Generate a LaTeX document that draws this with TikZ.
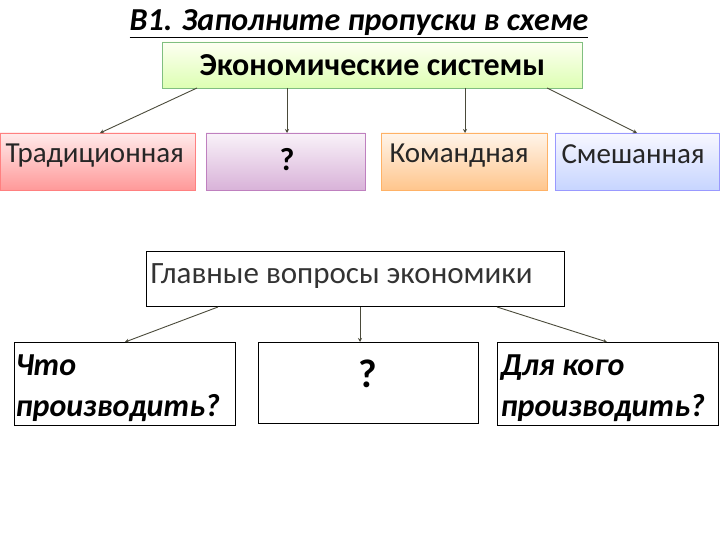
\documentclass[tikz,border=0pt]{standalone}
\usepackage{fontspec}
\setmainfont{Carlito}
\usetikzlibrary{arrows.meta}
\definecolor{lnk}{HTML}{4A4A3A}
\tikzset{
 px/.style={x=1pt,y=-1pt},
 conn/.style={draw=lnk,line width=0.9pt,-{Stealth[length=4pt,width=4pt]}},
 lbl/.style={font=\fontsize{29}{33}\selectfont,text=black!85},
 qlbl/.style={font=\fontsize{32}{41}\selectfont\bfseries\itshape,align=left,anchor=north west}
}
\begin{document}
\begin{tikzpicture}[px]
\useasboundingbox (0,0) rectangle (720,540);
\node[font=\fontsize{32}{36}\selectfont\bfseries\itshape] (title) at (359,24) {\underline{В1. Заполните пропуски в схеме}};
% top box
\shade[top color=green!8!yellow!5,bottom color=green!45!yellow!30] (162,42) rectangle (582,88);
\node[draw=green!50!black!50,line width=0.8pt,minimum width=420pt,minimum height=46pt,anchor=north west,inner sep=0,font=\fontsize{32}{36}\selectfont\bfseries] (es) at (162,42) {Экономические системы};
% category boxes
\shade[top color=red!8,bottom color=red!40] (0,133) rectangle (195,190);
\shade[top color=violet!5,bottom color=violet!30] (206,133) rectangle (365,190);
\shade[top color=orange!8,bottom color=orange!45] (381,133) rectangle (547,190);
\shade[top color=blue!3,bottom color=cyan!25!blue!22] (555,133) rectangle (719,190);
\node[draw=red!50,line width=0.8pt,minimum width=195pt,minimum height=57pt,anchor=north west,inner sep=0] (t) at (0,133) {};
\node[draw=violet!50,line width=0.8pt,minimum width=159pt,minimum height=57pt,anchor=north west,inner sep=0] (q1) at (206,133) {};
\node[draw=orange!60,line width=0.8pt,minimum width=166pt,minimum height=57pt,anchor=north west,inner sep=0] (k) at (381,133) {};
\node[draw=blue!40,line width=0.8pt,minimum width=164pt,minimum height=57pt,anchor=north west,inner sep=0] (s) at (555,133) {};
\node[lbl,anchor=west] (tl) at (2,156) {Традиционная};
\node[font=\fontsize{32}{36}\selectfont\bfseries,anchor=center] (q1l) at (287,160) {?};
\node[lbl,anchor=west] (kl) at (386,156) {Командная};
\node[lbl,anchor=west] (sl) at (558,154) {Смешанная};
\coordinate (e1) at (197,88); \coordinate (e2) at (287,88);
\coordinate (e3) at (465,88); \coordinate (e4) at (547,88);
\draw[conn] (e1) -- (t.north -| 100,0);
\draw[conn] (e2) -- (q1.north -| 287,0);
\draw[conn] (e3) -- (k.north -| 465,0);
\draw[conn] (e4) -- (s.north -| 637,0);
% questions
\node[draw=black,line width=0.8pt,minimum width=418pt,minimum height=55pt,anchor=north west,inner sep=0] (gv) at (146,251) {};
\node[font=\fontsize{31}{35}\selectfont,text=black!80,anchor=west] (gvl) at (147,276) {Главные вопросы экономики};
\node[draw=black,line width=0.8pt,minimum width=221pt,minimum height=83pt,anchor=north west,inner sep=0] (b1) at (14,342) {};
\node[draw=black,line width=0.8pt,minimum width=220pt,minimum height=81pt,anchor=north west,inner sep=0] (b2) at (258,342) {};
\node[draw=black,line width=0.8pt,minimum width=221pt,minimum height=83pt,anchor=north west,inner sep=0] (b3) at (497,342) {};
\node[qlbl] (b1l) at (12,351) {Что\\производить?};
\node[font=\fontsize{40}{44}\selectfont\bfseries] (b2l) at (368,374) {?};
\node[qlbl] (b3l) at (497,351) {Для кого\\производить?};
\coordinate (g1) at (218,307); \coordinate (g2) at (360,307); \coordinate (g3) at (497,307);
\draw[conn] (g1) -- (b1.north -| 125,0);
\draw[conn] (g2) -- (b2.north -| 360,0);
\draw[conn] (g3) -- (b3.north -| 607,0);
\end{tikzpicture}
\end{document}
